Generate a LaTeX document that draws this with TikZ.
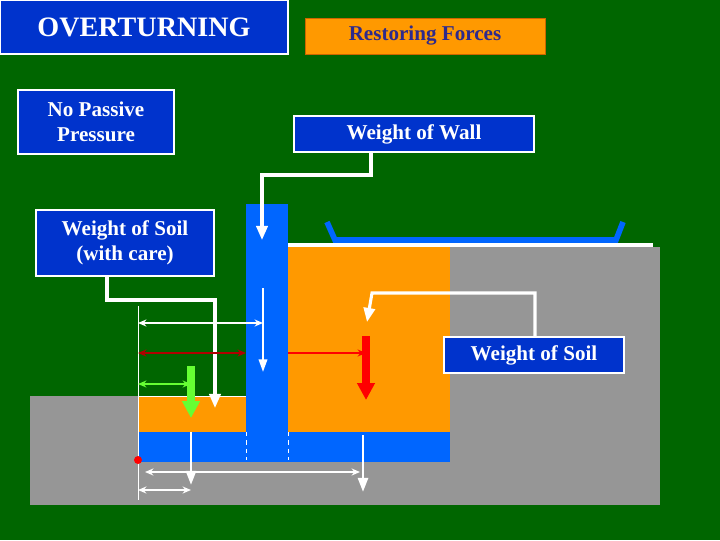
\documentclass[tikz,border=0pt]{standalone}
\usepackage{fontspec}
\setmainfont{Liberation Serif}
\usetikzlibrary{arrows.meta,positioning,calc}
\definecolor{bggreen}{HTML}{006600}
\definecolor{boxblue}{HTML}{0033CC}
\definecolor{wallblue}{HTML}{0066FF}
\definecolor{soil}{HTML}{FF9900}
\definecolor{ground}{HTML}{969696}
\definecolor{ink}{HTML}{2E2A8C}
\definecolor{lgreen}{HTML}{66FF33}
\definecolor{dred}{HTML}{B00000}
\begin{document}
\begin{tikzpicture}[
	x=0.025cm, y=-0.025cm,
	label box/.style = {
		rectangle, draw=white, thick, fill=boxblue,
		text=white, font=\bfseries\fontsize{15}{18}\selectfont,
		align=center, inner sep=2pt
	},
	leader/.style = {white, line width=2.2pt, -{Triangle[width=8pt,length=10pt]}},
	force/.style = {line width=5pt, -{Triangle[width=12pt,length=12pt]}},
	dim/.style = {line width=1.2pt, {Stealth[length=6pt,width=5pt]}-{Stealth[length=6pt,width=5pt]}}
]
	% background
	\fill [bggreen] (0,0) rectangle (720,540);
	\useasboundingbox (0,0) rectangle (720,540);

	% ground, fill and wall
	\fill [ground] (30,396) rectangle (660,505);
	\fill [ground] (450,247) rectangle (660,396);
	\fill [soil] (288,247) rectangle (450,432);
	\draw [white, fill=soil] (138,396) rectangle (246,432);
	\fill [wallblue] (138,432) rectangle (450,462);
	\fill [wallblue] (246,204) rectangle (288,462);
	\draw [white, line width=3pt] (288,245) -- (653,245);
	\draw [wallblue, line width=4pt] (327,222) -- (335,240) -- (616,240) -- (623,222);
	\draw [white, dashed, thin] (246,432) -- (246,460) (288,432) -- (288,460);

	% titles
	\node (title) [label box, minimum width=7.2cm, minimum height=1.35cm,
		font=\bfseries\fontsize{20}{24}\selectfont] at (144,27) {OVERTURNING};
	\node (restore) [rectangle, fill=soil, draw=orange!80!black, text=ink,
		font=\bfseries\fontsize{15}{18}\selectfont, minimum width=6cm, minimum height=0.9cm]
		at (425,36) {Restoring Forces};

	% labels
	\node (passive) [label box, minimum width=3.9cm, minimum height=1.6cm] at (96,122) {No Passive\\Pressure};
	\node (wallw) [label box, minimum width=6cm, minimum height=0.9cm] at (414,134) {Weight of Wall};
	\node (toesoil) [label box, minimum width=4.45cm, minimum height=1.65cm] at (125,243) {Weight of Soil\\(with care)};
	\node (heelsoil) [label box, minimum width=4.5cm, minimum height=0.9cm] at (534,355) {Weight of Soil};

	% leaders
	\draw [leader] (wallw.south -| 371,0) |- (262,175) -- (262,240);
	\draw [leader] (toesoil.south -| 107,0) |- (215,300) -- (215,408);
	\draw [leader] (heelsoil.north -| 535,0) |- (372,293) -- (367,322);

	% forces
	\draw [force, red] (366,336) -- (366,400);
	\draw [force, lgreen] (191,366) -- (191,418);
	\draw [white, line width=1.5pt, -{Triangle[width=6pt,length=9pt]}] (263,288) -- (263,372);
	\draw [white, line width=2pt, -{Triangle[width=7pt,length=10pt]}] (191,432) -- (191,485);
	\draw [white, line width=2pt, -{Triangle[width=7pt,length=10pt]}] (363,435) -- (363,492);

	% lever arms
	\draw [white, thin] (138,306) -- (138,500);
	\draw [dim, white] (138,323) -- (263,323);
	\draw [dim, dred] (138,353) -- (246,353);
	\draw [red, line width=1.2pt, -{Stealth[length=6pt,width=5pt]}] (288,353) -- (366,353);
	\draw [dim, lgreen] (138,384) -- (191,384);
	\draw [dim, white] (145,472) -- (360,472);
	\draw [dim, white] (138,490) -- (191,490);
	\fill [red] (138,460) circle (4);
\end{tikzpicture}
\end{document}
